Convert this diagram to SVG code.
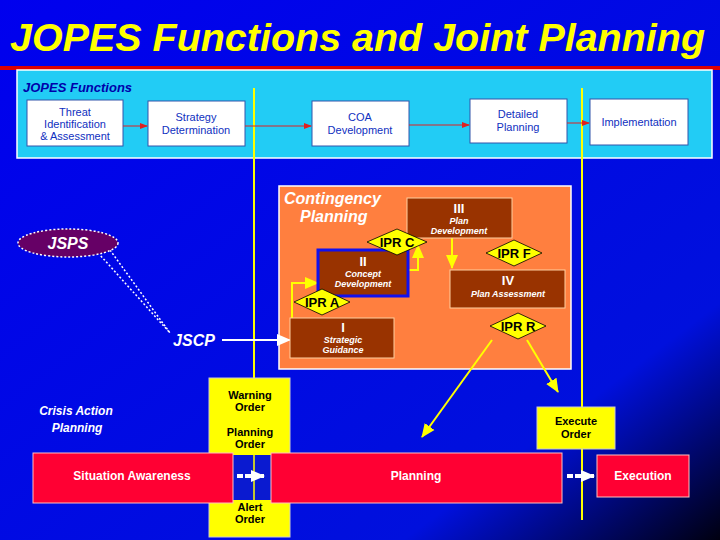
<svg xmlns="http://www.w3.org/2000/svg" width="720" height="540" viewBox="0 0 720 540">
<defs>
<linearGradient id="bg" x1="0" y1="0" x2="1" y2="1">
<stop offset="0" stop-color="#0000ee"/><stop offset="0.78" stop-color="#0010dd"/><stop offset="1" stop-color="#000010"/>
</linearGradient>
<marker id="ra" markerWidth="8" markerHeight="8" refX="7" refY="4" orient="auto" markerUnits="userSpaceOnUse"><path d="M0,1 L8,4 L0,7z" fill="#e02020"/></marker>
<marker id="ya" markerWidth="14" markerHeight="14" refX="13" refY="7" orient="auto" markerUnits="userSpaceOnUse"><path d="M0,1 L14,7 L0,13z" fill="#ffff00"/></marker>
<marker id="wa" markerWidth="14" markerHeight="14" refX="13" refY="7" orient="auto" markerUnits="userSpaceOnUse"><path d="M0,1 L14,7 L0,13z" fill="#fff"/></marker>
</defs>
<style>
text{font-family:"Liberation Sans",Arial,sans-serif}
.w{fill:#fff;stroke:#3355aa;stroke-width:1}
.wt{font-size:11px;fill:#1030c0;text-anchor:middle}
.br{fill:#993300;stroke:#ffd0a0;stroke-width:1}
.bt{fill:#fff;font-weight:bold;text-anchor:middle}
.d{fill:#ffff00;stroke:#000;stroke-width:0.8}
.dt{font-size:13px;font-weight:bold;text-anchor:middle;fill:#000}
.y{fill:#ffff00;stroke:#ccc;stroke-width:1}
.yt{font-size:11px;font-weight:bold;text-anchor:middle;fill:#000}
.r{fill:#ff0033;stroke:#ffc0c0;stroke-width:1}
.rt{font-size:12px;font-weight:bold;text-anchor:middle;fill:#fff}
.yl{stroke:#ffff00;stroke-width:2;fill:none}
</style>
<rect width="720" height="540" fill="url(#bg)"/>
<text x="10" y="51" font-size="38" font-weight="bold" font-style="italic" fill="#ffff00" textLength="695" lengthAdjust="spacingAndGlyphs">JOPES Functions and Joint Planning</text>
<rect x="0" y="66" width="720" height="4" fill="#dd0000"/>
<g id="jopes">
<rect x="17" y="70" width="695" height="88" fill="#22ccf5" stroke="#fff" stroke-width="1.5"/>
<text x="23" y="92" font-size="13" font-weight="bold" font-style="italic" fill="#0000aa">JOPES Functions</text>
</g>
<g id="n1"><rect class="w" x="27" y="100" width="96" height="46"/><text class="wt" x="75" y="116">Threat</text><text class="wt" x="75" y="128">Identification</text><text class="wt" x="75" y="140">&amp; Assessment</text></g>
<g id="n2"><rect class="w" x="148" y="101" width="97" height="45"/><text class="wt" x="196" y="121">Strategy</text><text class="wt" x="196" y="134">Determination</text></g>
<g id="n3"><rect class="w" x="312" y="101" width="97" height="45"/><text class="wt" x="360" y="121">COA</text><text class="wt" x="360" y="134">Development</text></g>
<g id="n4"><rect class="w" x="470" y="99" width="97" height="44"/><text class="wt" x="518" y="118">Detailed</text><text class="wt" x="518" y="131">Planning</text></g>
<g id="n5"><rect class="w" x="590" y="99" width="98" height="46"/><text class="wt" x="639" y="126">Implementation</text></g>
<g id="cp">
<rect x="279" y="186" width="292" height="183" fill="#ff7f3f" stroke="#fff" stroke-width="1.5"/>
<text x="284" y="204" font-size="16" font-weight="bold" font-style="italic" fill="#fff">Contingency</text>
<text x="300" y="222" font-size="16" font-weight="bold" font-style="italic" fill="#fff">Planning</text>
</g>
<g id="lines">
<line class="yl" x1="254" y1="88" x2="254" y2="525"/>
<line class="yl" x1="582" y1="88" x2="582" y2="520"/>
</g>
<g id="connectors">
<line x1="123" y1="126" x2="147" y2="126" stroke="#e02020" marker-end="url(#ra)"/>
<line x1="245" y1="126" x2="311" y2="126" stroke="#e02020" marker-end="url(#ra)"/>
<line x1="409" y1="125" x2="469" y2="125" stroke="#e02020" marker-end="url(#ra)"/>
<line x1="567" y1="123" x2="589" y2="123" stroke="#e02020" marker-end="url(#ra)"/>
<path class="yl" d="M292,318 V283 H318" marker-end="url(#ya)"/>
<path class="yl" d="M408,270 H418 V245" marker-end="url(#ya)"/>
<path class="yl" d="M452,238 V268" marker-end="url(#ya)"/>
<line class="yl" x1="492" y1="340" x2="422" y2="437" marker-end="url(#ya)"/>
<line class="yl" x1="527" y1="340" x2="558" y2="392" marker-end="url(#ya)"/>
<line x1="222" y1="340" x2="290" y2="340" stroke="#fff" stroke-width="2" marker-end="url(#wa)"/>
<path d="M110,250 L170,333 L100,255" fill="none" stroke="#fff" stroke-width="1.5" stroke-dasharray="2,2"/>
</g>
<g id="III"><rect class="br" x="407" y="198" width="105" height="40"/><text class="bt" x="459" y="213" font-size="13">III</text><text class="bt" x="459" y="224" font-size="9" font-style="italic">Plan</text><text class="bt" x="459" y="234" font-size="9" font-style="italic">Development</text></g>
<g id="II"><rect x="318" y="250" width="90" height="46" fill="#993300" stroke="#1010ee" stroke-width="3"/><text class="bt" x="363" y="266" font-size="13">II</text><text class="bt" x="363" y="277" font-size="9" font-style="italic">Concept</text><text class="bt" x="363" y="287" font-size="9" font-style="italic">Development</text></g>
<g id="IV"><rect class="br" x="450" y="270" width="115" height="38"/><text class="bt" x="508" y="285" font-size="13">IV</text><text class="bt" x="508" y="297" font-size="9" font-style="italic">Plan Assessment</text></g>
<g id="I"><rect class="br" x="290" y="318" width="104" height="40"/><text class="bt" x="343" y="332" font-size="13">I</text><text class="bt" x="343" y="343" font-size="9" font-style="italic">Strategic</text><text class="bt" x="343" y="353" font-size="9" font-style="italic">Guidance</text></g>
<g id="iprc"><polygon class="d" points="367,242 397,229 427,242 397,255"/><text class="dt" x="397" y="247">IPR C</text></g>
<g id="iprf"><polygon class="d" points="486,253 514,240 542,253 514,266"/><text class="dt" x="514" y="258">IPR F</text></g>
<g id="ipra"><polygon class="d" points="294,302 322,289 350,302 322,315"/><text class="dt" x="322" y="307">IPR A</text></g>
<g id="iprr"><polygon class="d" points="490,326 518,313 546,326 518,339"/><text class="dt" x="518" y="331">IPR R</text></g>
<g id="jsps"><ellipse cx="68" cy="243" rx="50" ry="14" fill="#660066" stroke="#fff" stroke-width="1.5" stroke-dasharray="2,2"/><text x="68" y="249" font-size="16" font-weight="bold" font-style="italic" fill="#fff" text-anchor="middle">JSPS</text></g>
<g id="jscp"><text x="194" y="346" font-size="16" font-weight="bold" font-style="italic" fill="#fff" text-anchor="middle">JSCP</text></g>
<g id="cap"><text x="76" y="415" font-size="12" font-weight="bold" font-style="italic" fill="#fff" text-anchor="middle">Crisis Action</text><text x="77" y="432" font-size="12" font-weight="bold" font-style="italic" fill="#fff" text-anchor="middle">Planning</text></g>
<g id="orders"><rect class="y" x="209" y="378" width="81" height="159"/>
<text class="yt" x="250" y="399">Warning</text><text class="yt" x="250" y="411">Order</text>
<text class="yt" x="250" y="436">Planning</text><text class="yt" x="250" y="448">Order</text>
<text class="yt" x="250" y="511">Alert</text><text class="yt" x="250" y="523">Order</text>
<rect x="233" y="455" width="38" height="45" fill="#0a1ad0"/>
<line x1="254" y1="455" x2="254" y2="500" stroke="#ffff00" stroke-width="1.5"/></g>
<g id="exec"><rect class="y" x="537" y="407" width="78" height="42"/><text class="yt" x="576" y="425">Execute</text><text class="yt" x="576" y="438">Order</text></g>
<g id="sa"><rect class="r" x="33" y="453" width="200" height="50"/><text class="rt" x="132" y="480">Situation Awareness</text></g>
<g id="plan"><rect class="r" x="271" y="453" width="291" height="50"/><text class="rt" x="416" y="480">Planning</text></g>
<g id="ex"><rect class="r" x="597" y="455" width="92" height="42"/><text class="rt" x="643" y="480">Execution</text></g>
<g id="barrows">
<line x1="237" y1="476" x2="264" y2="476" stroke="#fff" stroke-width="4" stroke-dasharray="6,2" marker-end="url(#wa)"/>
<line x1="567" y1="476" x2="594" y2="476" stroke="#fff" stroke-width="4" stroke-dasharray="6,2" marker-end="url(#wa)"/>
</g>
</svg>
